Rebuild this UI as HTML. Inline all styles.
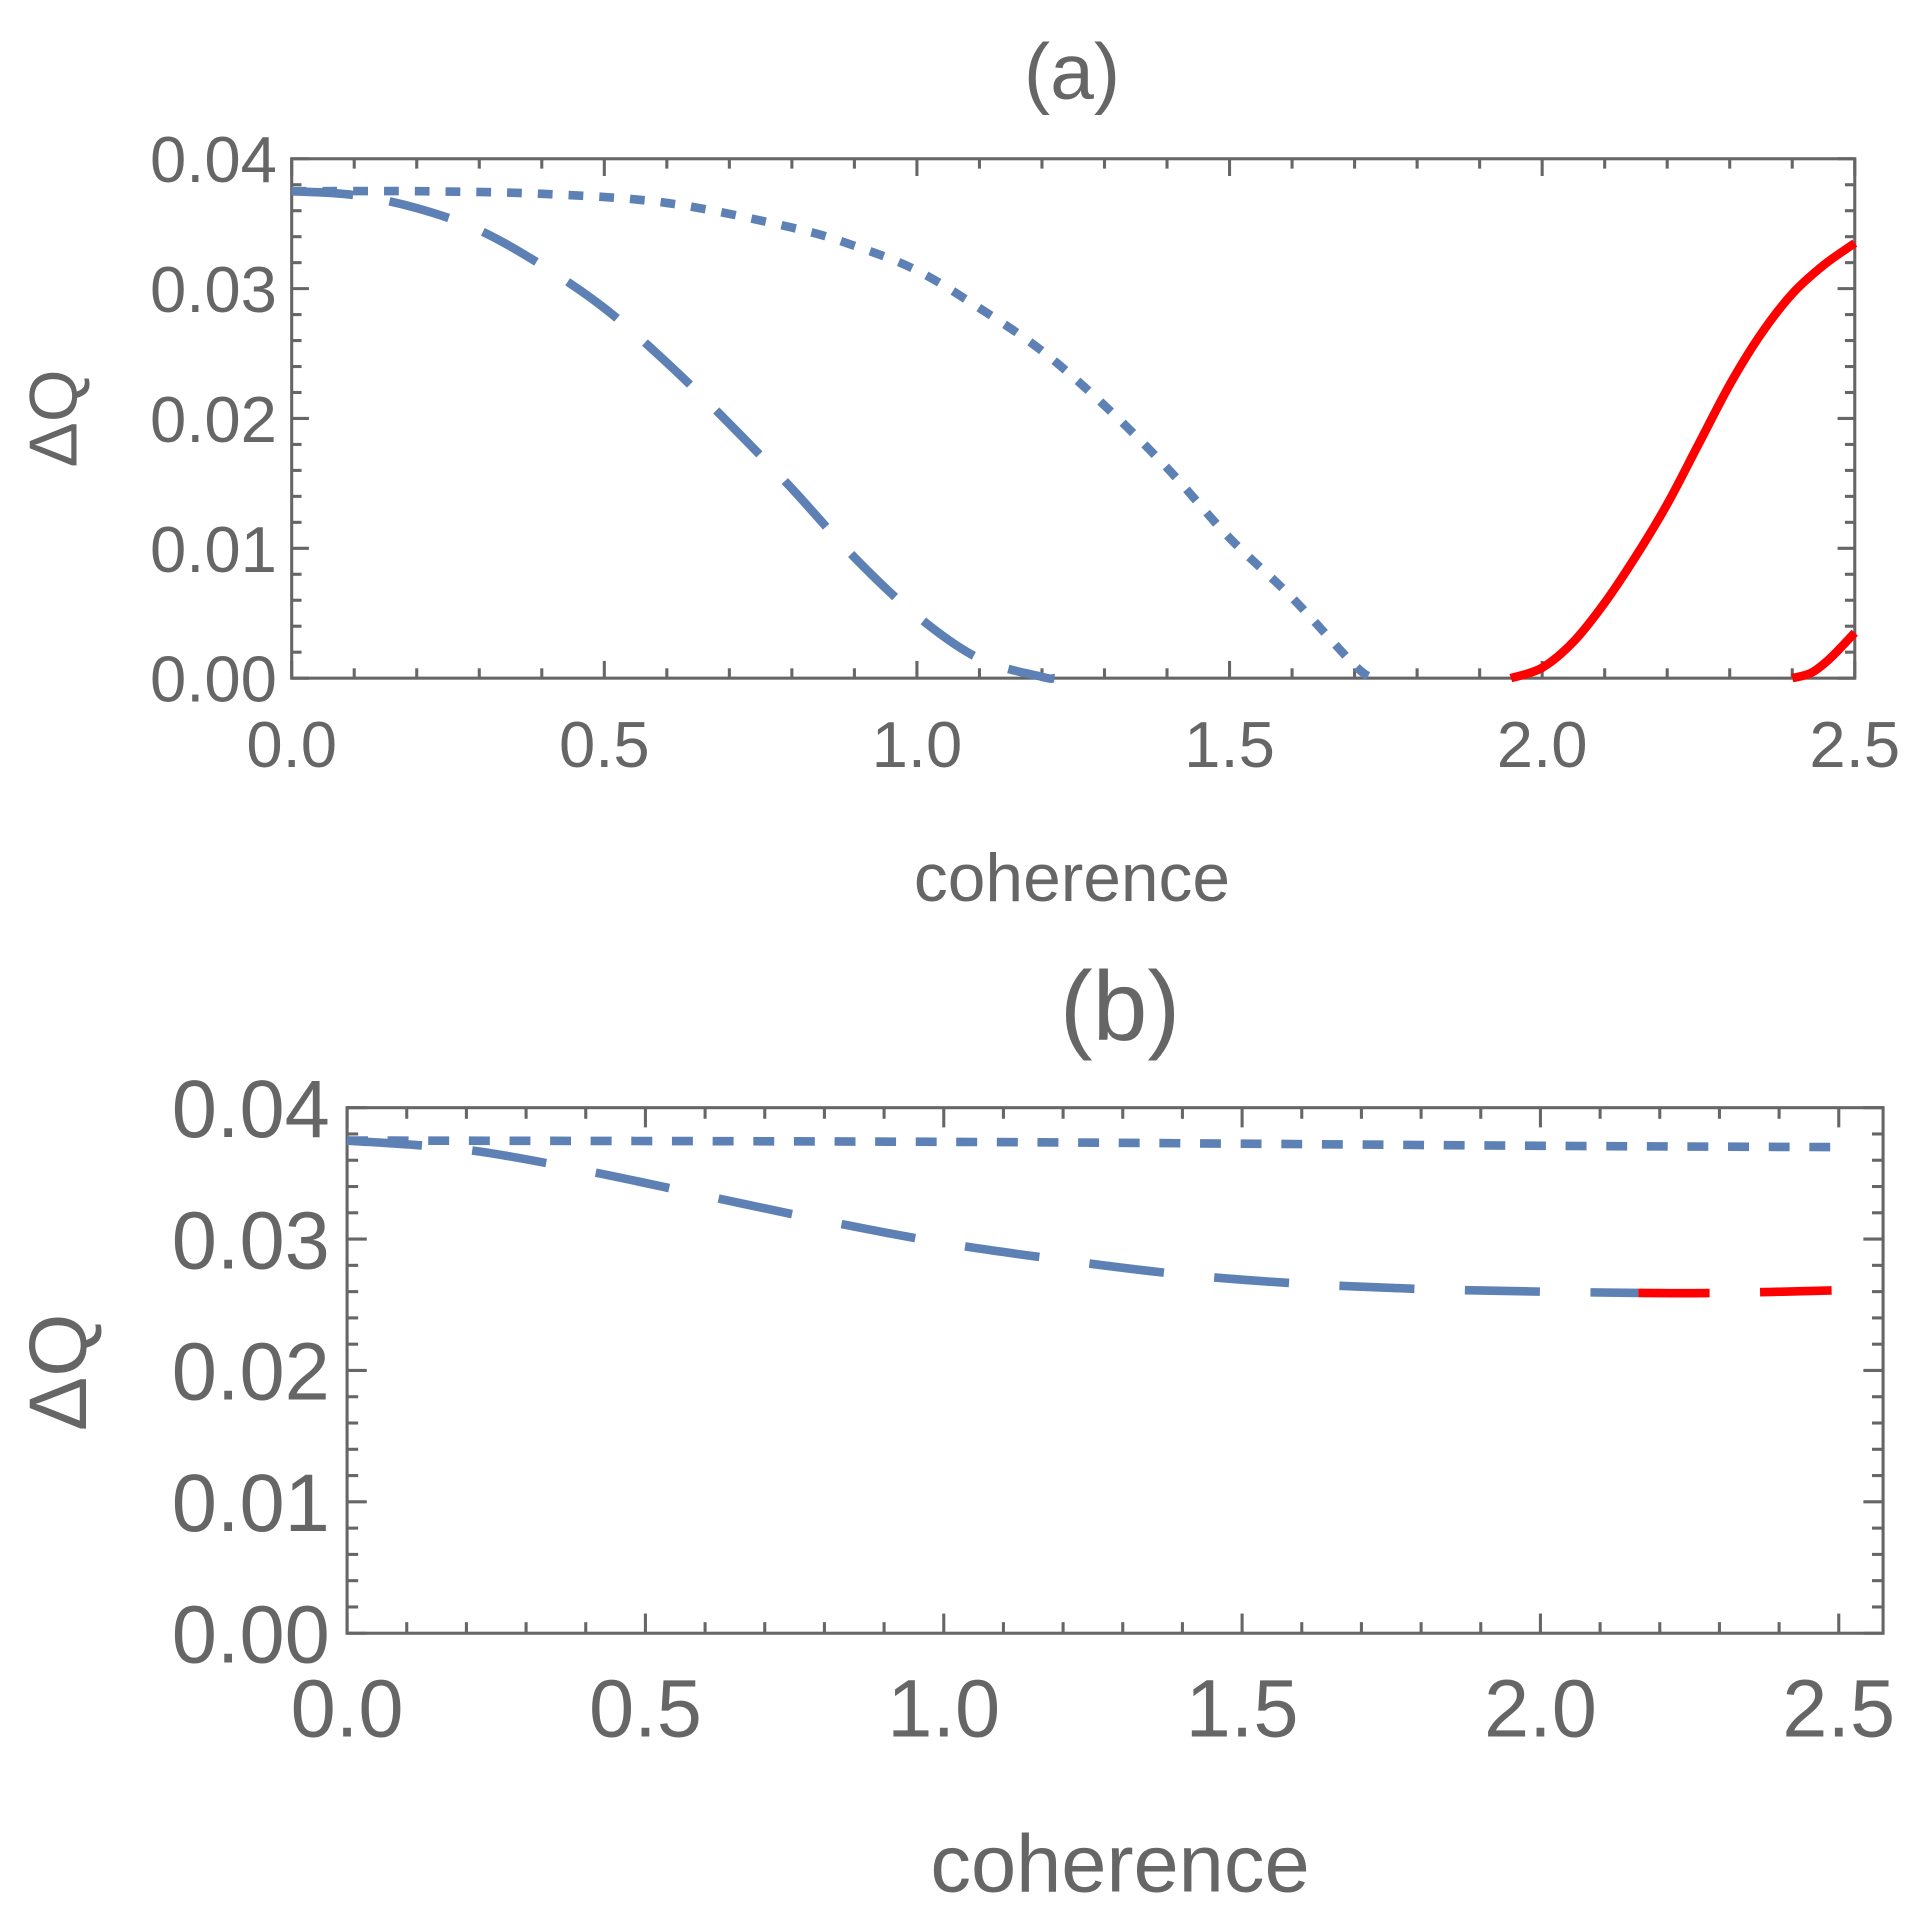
<!DOCTYPE html>
<html><head><meta charset="utf-8"><style>
html,body{margin:0;padding:0;background:#fff;}
svg{display:block;}
text{font-family:"Liberation Sans",sans-serif;fill:#666;}
</style></head><body>
<svg id="chart" width="1920" height="1912" viewBox="0 0 1560 1553.5" preserveAspectRatio="none" xmlns="http://www.w3.org/2000/svg"></svg>
<script>
// Panel (a) data
const aDashX = [0,0.1,0.2,0.3,0.4,0.5,0.6,0.7,0.8,0.9,1.0,1.1,1.2,1.22];
const aDashY = [0.0375,0.0372,0.0362,0.0345,0.0318,0.0285,0.0243,0.0196,0.0146,0.0093,0.0048,0.0015,0.0001,0];
const aDotX = [0,0.2,0.4,0.6,0.8,0.9,1.0,1.1,1.2,1.3,1.4,1.5,1.6,1.7,1.73];
const aDotY = [0.0375,0.0375,0.0373,0.0366,0.0347,0.0333,0.0314,0.0285,0.0252,0.0210,0.0162,0.0108,0.0062,0.0010,0];
const aRedX = [1.95,2.0,2.05,2.1,2.15,2.2,2.25,2.3,2.35,2.4,2.45,2.5];
const aRedY = [0,0.0008,0.0028,0.0058,0.0094,0.0134,0.0180,0.0226,0.0265,0.0296,0.0318,0.0335];
const aRed2X = [2.4,2.43,2.46,2.5];
const aRed2Y = [0,0.0004,0.0015,0.0035];
// Panel (b) data
const bDotX = [0,1.0,2.0,2.5];
const bDotY = [0.0375,0.0374,0.0371,0.0370];
const bDashX = [0,0.2,0.4,0.6,0.8,1.0,1.2,1.4,1.6,1.8,2.0,2.164];
const bDashY = [0.0375,0.0368,0.0352,0.0333,0.0314,0.0297,0.0284,0.0273,0.0266,0.0262,0.0260,0.0259];
const bRedX = [2.164,2.3,2.5];
const bRedY = [0.0259,0.0259,0.0261];
const xTickLabels = ["0.0","0.5","1.0","1.5","2.0","2.5"];
const yTickLabels = ["0.00","0.01","0.02","0.03","0.04"];

const NS="http://www.w3.org/2000/svg";
const svg=document.getElementById('chart');
function mk(tag,attrs,parent){const e=document.createElementNS(NS,tag);for(const k in attrs)e.setAttribute(k,attrs[k]);(parent||svg).appendChild(e);return e;}
function smoothPath(pts){
  let d='M'+pts[0][0].toFixed(2)+' '+pts[0][1].toFixed(2);
  for(let i=0;i<pts.length-1;i++){
    const p0=pts[Math.max(0,i-1)],p1=pts[i],p2=pts[i+1],p3=pts[Math.min(pts.length-1,i+2)];
    const c1=[p1[0]+(p2[0]-p0[0])/6,p1[1]+(p2[1]-p0[1])/6];
    const c2=[p2[0]-(p3[0]-p1[0])/6,p2[1]-(p3[1]-p1[1])/6];
    d+=` C${c1[0].toFixed(2)} ${c1[1].toFixed(2)} ${c2[0].toFixed(2)} ${c2[1].toFixed(2)} ${p2[0].toFixed(2)} ${p2[1].toFixed(2)}`;
  }
  return d;
}

function panel(cfg){
  const g=mk('g',{});
  
  
  const sx=v=>cfg.x0+(v/2.5)*(cfg.x25-cfg.x0);
  const sy=v=>cfg.y0-(v/0.04)*(cfg.y0-cfg.y4);
  const L=cfg.frameL,R=cfg.frameR,T=cfg.frameT,B=cfg.frameB;
  const fr=mk('rect',{x:L,y:T,width:R-L,height:B-T,fill:'none',stroke:'#666','stroke-width':2.5},g);
  
  
  for(let i=0;i<=26;i++){const v=i*0.1;const x=sx(v);if(x>R+0.5)break;const major=i%5===0;const len=major?cfg.maj:cfg.min;
    mk('line',{x1:x,y1:B,x2:x,y2:B-len,stroke:'#666','stroke-width':2.5},g);
    mk('line',{x1:x,y1:T,x2:x,y2:T+len,stroke:'#666','stroke-width':2.5},g);}
  xTickLabels.forEach((t,i)=>{const tx=mk('text',{x:sx(i*0.5),y:B+cfg.xlOff,'font-size':cfg.fs,'text-anchor':'middle'},g);tx.textContent=t;
    
    });
  for(let i=0;i<=20;i++){const v=i*0.002;const y=sy(v);const major=i%5===0;const len=major?cfg.maj:cfg.min;
    mk('line',{x1:L,y1:y,x2:L+len,y2:y,stroke:'#666','stroke-width':2.5},g);
    mk('line',{x1:R,y1:y,x2:R-len,y2:y,stroke:'#666','stroke-width':2.5},g);}
  yTickLabels.forEach((t,i)=>{const tx=mk('text',{x:L-cfg.ylOff,y:sy(i*0.01)+cfg.fs*0.36,'font-size':cfg.fs,'text-anchor':'end'},g);tx.textContent=t;
    
    });
  const title=mk('text',{x:cfg.titleX,y:cfg.titleY,'font-size':cfg.tfs,'text-anchor':'middle'},g);title.textContent=cfg.title;
  
  
  const xl=mk('text',{x:cfg.xlabX,y:cfg.xlabY,'font-size':cfg.lfs,'text-anchor':'middle'},g);xl.textContent='coherence';
  
  
  const yl=mk('text',{x:0,y:0,'font-size':cfg.lfs,'text-anchor':'middle',transform:`translate(${cfg.ylabX},${cfg.ylabY}) rotate(-90)`},g);yl.textContent='ΔQ';
  
  
  cfg.series.forEach(s=>{
    const pts=s.xs.map((x,i)=>[sx(x),sy(s.ys[i])]);
    const p=mk('path',{d:smoothPath(pts),fill:'none',stroke:s.color,'stroke-width':7,'stroke-dasharray':s.dash||'none'},g);
    
    
  });
}
const blue='#5e81b5', red='#ff0000';
panel({name:'panel-a',x0:237,x25:1507,y0:551,y4:129,frameL:237,frameR:1507,frameT:129,frameB:551,maj:14,min:8,
  fs:53,xlOff:72,ylOff:12,title:'(a)',titleX:871,titleY:80,tfs:64,xlabX:871,xlabY:732,lfs:55,ylabX:62,ylabY:340,
  series:[
    {name:'series-dashed',xs:aDashX,ys:aDashY,color:blue,dash:'50 30'},
    {name:'series-dotted',xs:aDotX,ys:aDotY,color:blue,dash:'12 13'},
    {name:'series-red-solid',xs:aRedX,ys:aRedY,color:red},
    {name:'series-red-small',xs:aRed2X,ys:aRed2Y,color:red}
  ]});
panel({name:'panel-b',x0:282,x25:1494,y0:1327,y4:900,frameL:282,frameR:1530,frameT:900,frameB:1327,maj:16,min:9,
  fs:66,xlOff:84,ylOff:14,title:'(b)',titleX:910,titleY:845,tfs:80,xlabX:910,xlabY:1537,lfs:66,ylabX:70,ylabY:1115,
  series:[
    {name:'series-dotted',xs:bDotX,ys:bDotY,color:blue,dash:'17 16'},
    {name:'series-dashed',xs:bDashX,ys:bDashY,color:blue,dash:'61 41'},
    {name:'series-red-dashed',xs:bRedX,ys:bRedY,color:red,dash:'58 41'}
  ]});
</script>
</body></html>
